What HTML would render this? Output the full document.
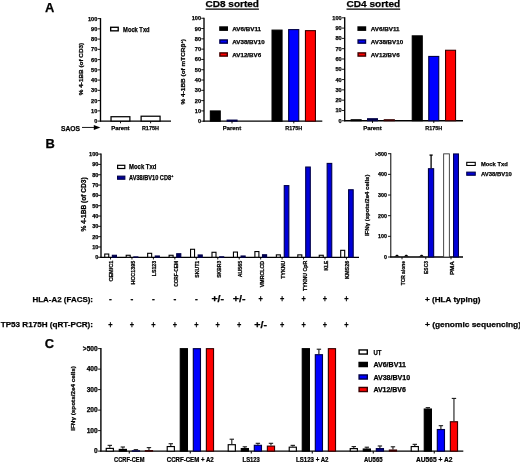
<!DOCTYPE html>
<html><head><meta charset="utf-8"><title>Figure</title>
<style>
html,body{margin:0;padding:0;background:#fff}
svg{display:block}
text{font-family:"Liberation Sans", sans-serif;font-weight:bold;fill:#000;stroke:#000;stroke-width:0.25px}
</style></head><body>
<svg width="520" height="462" viewBox="0 0 520 462">
<rect width="520" height="462" fill="#fff"/>
<text x="45.0" y="11.7" font-size="12.9" text-anchor="start" stroke-width="0.55">A</text>
<line x1="100.5" y1="18.1" x2="100.5" y2="121.6" stroke="#000" stroke-width="1.35"/>
<line x1="97.7" y1="121.1" x2="100.5" y2="121.1" stroke="#000" stroke-width="0.9"/>
<text x="97.3" y="123.12" font-size="5.6" text-anchor="end">0</text>
<line x1="97.7" y1="110.85" x2="100.5" y2="110.85" stroke="#000" stroke-width="0.9"/>
<text x="97.3" y="112.87" font-size="5.6" text-anchor="end">10</text>
<line x1="97.7" y1="100.6" x2="100.5" y2="100.6" stroke="#000" stroke-width="0.9"/>
<text x="97.3" y="102.62" font-size="5.6" text-anchor="end">20</text>
<line x1="97.7" y1="90.35" x2="100.5" y2="90.35" stroke="#000" stroke-width="0.9"/>
<text x="97.3" y="92.37" font-size="5.6" text-anchor="end">30</text>
<line x1="97.7" y1="80.1" x2="100.5" y2="80.1" stroke="#000" stroke-width="0.9"/>
<text x="97.3" y="82.12" font-size="5.6" text-anchor="end">40</text>
<line x1="97.7" y1="69.85" x2="100.5" y2="69.85" stroke="#000" stroke-width="0.9"/>
<text x="97.3" y="71.87" font-size="5.6" text-anchor="end">50</text>
<line x1="97.7" y1="59.599999999999994" x2="100.5" y2="59.599999999999994" stroke="#000" stroke-width="0.9"/>
<text x="97.3" y="61.62" font-size="5.6" text-anchor="end">60</text>
<line x1="97.7" y1="49.349999999999994" x2="100.5" y2="49.349999999999994" stroke="#000" stroke-width="0.9"/>
<text x="97.3" y="51.37" font-size="5.6" text-anchor="end">70</text>
<line x1="97.7" y1="39.099999999999994" x2="100.5" y2="39.099999999999994" stroke="#000" stroke-width="0.9"/>
<text x="97.3" y="41.12" font-size="5.6" text-anchor="end">80</text>
<line x1="97.7" y1="28.849999999999994" x2="100.5" y2="28.849999999999994" stroke="#000" stroke-width="0.9"/>
<text x="97.3" y="30.87" font-size="5.6" text-anchor="end">90</text>
<line x1="97.7" y1="18.599999999999994" x2="100.5" y2="18.599999999999994" stroke="#000" stroke-width="0.9"/>
<text x="97.3" y="20.62" font-size="5.6" text-anchor="end">100</text>
<line x1="100" y1="121.1" x2="171" y2="121.1" stroke="#000" stroke-width="1.3"/>
<rect x="111.03" y="116.72" width="18.85" height="4.35" fill="#fff" stroke="#000" stroke-width="1.25"/>
<rect x="141.12" y="116.22" width="18.95" height="4.85" fill="#fff" stroke="#000" stroke-width="1.25"/>
<line x1="120.5" y1="121.1" x2="120.5" y2="123.3" stroke="#000" stroke-width="0.9"/>
<line x1="150.6" y1="121.1" x2="150.6" y2="123.3" stroke="#000" stroke-width="0.9"/>
<text x="120.4" y="130.4" font-size="6.2" text-anchor="middle" textLength="18.4" lengthAdjust="spacingAndGlyphs">Parent</text>
<text x="150.4" y="130.4" font-size="6.2" text-anchor="middle" textLength="16.9" lengthAdjust="spacingAndGlyphs">R175H</text>
<text x="83.2" y="69" font-size="6.0" text-anchor="middle" textLength="52.3" lengthAdjust="spacingAndGlyphs" transform="rotate(-90 83.2 69)">% 4-1BB (of CD3)</text>
<rect x="110.67" y="27.28" width="7.55" height="3.55" fill="#fff" stroke="#000" stroke-width="1.35"/>
<text x="123.1" y="31.5" font-size="6.5" text-anchor="start" textLength="26.5" lengthAdjust="spacingAndGlyphs">Mock Txd</text>
<text x="60.9" y="130.9" font-size="7.4" text-anchor="start" textLength="19.2" lengthAdjust="spacingAndGlyphs" stroke-width="0.45">SAOS</text>
<line x1="82" y1="127.45" x2="95" y2="127.45" stroke="#000" stroke-width="0.9"/>
<path d="M93.8 124.9 L100.4 127.45 L93.8 130 Z" fill="#000"/>
<line x1="204.0" y1="17.75" x2="204.0" y2="121.7" stroke="#000" stroke-width="1.35"/>
<line x1="201.2" y1="121.2" x2="204.0" y2="121.2" stroke="#000" stroke-width="0.9"/>
<text x="201.0" y="123.22" font-size="5.6" text-anchor="end">0</text>
<line x1="201.2" y1="110.905" x2="204.0" y2="110.905" stroke="#000" stroke-width="0.9"/>
<text x="201.0" y="112.92" font-size="5.6" text-anchor="end">10</text>
<line x1="201.2" y1="100.61" x2="204.0" y2="100.61" stroke="#000" stroke-width="0.9"/>
<text x="201.0" y="102.63" font-size="5.6" text-anchor="end">20</text>
<line x1="201.2" y1="90.315" x2="204.0" y2="90.315" stroke="#000" stroke-width="0.9"/>
<text x="201.0" y="92.33" font-size="5.6" text-anchor="end">30</text>
<line x1="201.2" y1="80.02000000000001" x2="204.0" y2="80.02000000000001" stroke="#000" stroke-width="0.9"/>
<text x="201.0" y="82.04" font-size="5.6" text-anchor="end">40</text>
<line x1="201.2" y1="69.725" x2="204.0" y2="69.725" stroke="#000" stroke-width="0.9"/>
<text x="201.0" y="71.74" font-size="5.6" text-anchor="end">50</text>
<line x1="201.2" y1="59.43" x2="204.0" y2="59.43" stroke="#000" stroke-width="0.9"/>
<text x="201.0" y="61.45" font-size="5.6" text-anchor="end">60</text>
<line x1="201.2" y1="49.135000000000005" x2="204.0" y2="49.135000000000005" stroke="#000" stroke-width="0.9"/>
<text x="201.0" y="51.15" font-size="5.6" text-anchor="end">70</text>
<line x1="201.2" y1="38.84" x2="204.0" y2="38.84" stroke="#000" stroke-width="0.9"/>
<text x="201.0" y="40.86" font-size="5.6" text-anchor="end">80</text>
<line x1="201.2" y1="28.545" x2="204.0" y2="28.545" stroke="#000" stroke-width="0.9"/>
<text x="201.0" y="30.56" font-size="5.6" text-anchor="end">90</text>
<line x1="201.2" y1="18.25" x2="204.0" y2="18.25" stroke="#000" stroke-width="0.9"/>
<text x="201.0" y="20.27" font-size="5.6" text-anchor="end">100</text>
<line x1="203.5" y1="121.2" x2="322.3" y2="121.2" stroke="#000" stroke-width="1.3"/>
<rect x="210.35" y="110.94" width="9.90" height="10.21" fill="#000" stroke="#000" stroke-width="1.1"/>
<rect x="227.15" y="120.10" width="9.90" height="1.05" fill="#000048" stroke="#000048" stroke-width="1.1"/>
<rect x="272.05" y="30.12" width="10.00" height="91.03" fill="#000" stroke="#000" stroke-width="1.1"/>
<rect x="288.65" y="29.61" width="10.10" height="91.54" fill="#0000ff" stroke="#000048" stroke-width="1.1"/>
<rect x="305.45" y="30.64" width="10.00" height="90.51" fill="#ff0000" stroke="#380000" stroke-width="1.1"/>
<line x1="232" y1="121.2" x2="232" y2="123.4" stroke="#000" stroke-width="0.9"/>
<text x="232" y="130.2" font-size="6.2" text-anchor="middle" textLength="18.4" lengthAdjust="spacingAndGlyphs">Parent</text>
<line x1="293.8" y1="121.2" x2="293.8" y2="123.4" stroke="#000" stroke-width="0.9"/>
<text x="293.8" y="130.2" font-size="6.2" text-anchor="middle" textLength="16.9" lengthAdjust="spacingAndGlyphs">R175H</text>
<text x="205.6" y="7.45" font-size="9.2" text-anchor="start" textLength="53.29999999999998" lengthAdjust="spacingAndGlyphs">CD8 sorted</text>
<line x1="205.6" y1="9.05" x2="258.9" y2="9.05" stroke="#000" stroke-width="1.25"/>
<rect x="219.90" y="27.00" width="7.40" height="3.20" fill="#000" stroke="#000" stroke-width="1.4"/>
<text x="232.3" y="30.75" font-size="5.9" text-anchor="start" textLength="28.8" lengthAdjust="spacingAndGlyphs">AV6/BV11</text>
<rect x="219.90" y="39.95" width="7.40" height="3.20" fill="#0000ff" stroke="#000050" stroke-width="1.4"/>
<text x="232.3" y="43.699999999999996" font-size="5.9" text-anchor="start" textLength="32.3" lengthAdjust="spacingAndGlyphs">AV38/BV10</text>
<rect x="219.90" y="52.90" width="7.40" height="3.20" fill="#ff0000" stroke="#400000" stroke-width="1.4"/>
<text x="232.3" y="56.65" font-size="5.9" text-anchor="start" textLength="28.8" lengthAdjust="spacingAndGlyphs">AV12/BV6</text>
<text x="185.1" y="71.7" font-size="6.2" text-anchor="middle" textLength="65.4" lengthAdjust="spacingAndGlyphs" transform="rotate(-90 185.1 71.7)">% 4-1BB (of mTCRβ<tspan dy="-2.2" font-size="4">+</tspan><tspan dy="2.2">)</tspan></text>
<line x1="344.7" y1="17.3" x2="344.7" y2="121.25" stroke="#000" stroke-width="1.35"/>
<line x1="341.9" y1="120.75" x2="344.7" y2="120.75" stroke="#000" stroke-width="0.9"/>
<text x="341.7" y="122.77" font-size="5.6" text-anchor="end">0</text>
<line x1="341.9" y1="110.455" x2="344.7" y2="110.455" stroke="#000" stroke-width="0.9"/>
<text x="341.7" y="112.47" font-size="5.6" text-anchor="end">10</text>
<line x1="341.9" y1="100.16" x2="344.7" y2="100.16" stroke="#000" stroke-width="0.9"/>
<text x="341.7" y="102.18" font-size="5.6" text-anchor="end">20</text>
<line x1="341.9" y1="89.865" x2="344.7" y2="89.865" stroke="#000" stroke-width="0.9"/>
<text x="341.7" y="91.88" font-size="5.6" text-anchor="end">30</text>
<line x1="341.9" y1="79.57" x2="344.7" y2="79.57" stroke="#000" stroke-width="0.9"/>
<text x="341.7" y="81.59" font-size="5.6" text-anchor="end">40</text>
<line x1="341.9" y1="69.275" x2="344.7" y2="69.275" stroke="#000" stroke-width="0.9"/>
<text x="341.7" y="71.29" font-size="5.6" text-anchor="end">50</text>
<line x1="341.9" y1="58.98" x2="344.7" y2="58.98" stroke="#000" stroke-width="0.9"/>
<text x="341.7" y="61.0" font-size="5.6" text-anchor="end">60</text>
<line x1="341.9" y1="48.685" x2="344.7" y2="48.685" stroke="#000" stroke-width="0.9"/>
<text x="341.7" y="50.7" font-size="5.6" text-anchor="end">70</text>
<line x1="341.9" y1="38.39" x2="344.7" y2="38.39" stroke="#000" stroke-width="0.9"/>
<text x="341.7" y="40.41" font-size="5.6" text-anchor="end">80</text>
<line x1="341.9" y1="28.095" x2="344.7" y2="28.095" stroke="#000" stroke-width="0.9"/>
<text x="341.7" y="30.11" font-size="5.6" text-anchor="end">90</text>
<line x1="341.9" y1="17.799999999999997" x2="344.7" y2="17.799999999999997" stroke="#000" stroke-width="0.9"/>
<text x="341.7" y="19.82" font-size="5.6" text-anchor="end">100</text>
<line x1="344.2" y1="120.75" x2="463" y2="120.75" stroke="#000" stroke-width="1.3"/>
<rect x="351.15" y="119.76" width="10.00" height="0.94" fill="#000" stroke="#000" stroke-width="1.1"/>
<rect x="367.55" y="118.73" width="9.90" height="1.97" fill="#000048" stroke="#000048" stroke-width="1.1"/>
<rect x="384.25" y="119.76" width="10.10" height="0.94" fill="#380000" stroke="#380000" stroke-width="1.1"/>
<rect x="412.25" y="35.85" width="10.00" height="84.85" fill="#000" stroke="#000" stroke-width="1.1"/>
<rect x="428.75" y="56.44" width="10.00" height="64.26" fill="#0000ff" stroke="#000048" stroke-width="1.1"/>
<rect x="445.55" y="50.26" width="10.00" height="70.44" fill="#ff0000" stroke="#380000" stroke-width="1.1"/>
<line x1="372.5" y1="120.75" x2="372.5" y2="122.95" stroke="#000" stroke-width="0.9"/>
<text x="372.5" y="129.75" font-size="6.2" text-anchor="middle" textLength="18.4" lengthAdjust="spacingAndGlyphs">Parent</text>
<line x1="433.8" y1="120.75" x2="433.8" y2="122.95" stroke="#000" stroke-width="0.9"/>
<text x="433.8" y="129.75" font-size="6.2" text-anchor="middle" textLength="16.9" lengthAdjust="spacingAndGlyphs">R175H</text>
<text x="346.5" y="7.45" font-size="9.2" text-anchor="start" textLength="53.69999999999999" lengthAdjust="spacingAndGlyphs">CD4 sorted</text>
<line x1="346.5" y1="9.05" x2="400.2" y2="9.05" stroke="#000" stroke-width="1.25"/>
<rect x="358.10" y="27.00" width="7.40" height="3.20" fill="#000" stroke="#000" stroke-width="1.4"/>
<text x="370.8" y="30.75" font-size="5.9" text-anchor="start" textLength="28.8" lengthAdjust="spacingAndGlyphs">AV6/BV11</text>
<rect x="358.10" y="39.95" width="7.40" height="3.20" fill="#0000ff" stroke="#000050" stroke-width="1.4"/>
<text x="370.8" y="43.699999999999996" font-size="5.9" text-anchor="start" textLength="32.3" lengthAdjust="spacingAndGlyphs">AV38/BV10</text>
<rect x="358.10" y="52.90" width="7.40" height="3.20" fill="#ff0000" stroke="#400000" stroke-width="1.4"/>
<text x="370.8" y="56.65" font-size="5.9" text-anchor="start" textLength="28.8" lengthAdjust="spacingAndGlyphs">AV12/BV6</text>
<text x="45.5" y="148.4" font-size="12.9" text-anchor="start" stroke-width="0.55">B</text>
<line x1="101.0" y1="153.6" x2="101.0" y2="257.8" stroke="#000" stroke-width="1.35"/>
<line x1="98.2" y1="257.3" x2="101.0" y2="257.3" stroke="#000" stroke-width="0.9"/>
<text x="98.4" y="259.32" font-size="5.6" text-anchor="end">0</text>
<line x1="98.2" y1="246.98000000000002" x2="101.0" y2="246.98000000000002" stroke="#000" stroke-width="0.9"/>
<text x="98.4" y="249.0" font-size="5.6" text-anchor="end">10</text>
<line x1="98.2" y1="236.66" x2="101.0" y2="236.66" stroke="#000" stroke-width="0.9"/>
<text x="98.4" y="238.68" font-size="5.6" text-anchor="end">20</text>
<line x1="98.2" y1="226.34" x2="101.0" y2="226.34" stroke="#000" stroke-width="0.9"/>
<text x="98.4" y="228.36" font-size="5.6" text-anchor="end">30</text>
<line x1="98.2" y1="216.02" x2="101.0" y2="216.02" stroke="#000" stroke-width="0.9"/>
<text x="98.4" y="218.04" font-size="5.6" text-anchor="end">40</text>
<line x1="98.2" y1="205.7" x2="101.0" y2="205.7" stroke="#000" stroke-width="0.9"/>
<text x="98.4" y="207.72" font-size="5.6" text-anchor="end">50</text>
<line x1="98.2" y1="195.38" x2="101.0" y2="195.38" stroke="#000" stroke-width="0.9"/>
<text x="98.4" y="197.4" font-size="5.6" text-anchor="end">60</text>
<line x1="98.2" y1="185.06" x2="101.0" y2="185.06" stroke="#000" stroke-width="0.9"/>
<text x="98.4" y="187.08" font-size="5.6" text-anchor="end">70</text>
<line x1="98.2" y1="174.74" x2="101.0" y2="174.74" stroke="#000" stroke-width="0.9"/>
<text x="98.4" y="176.76" font-size="5.6" text-anchor="end">80</text>
<line x1="98.2" y1="164.42" x2="101.0" y2="164.42" stroke="#000" stroke-width="0.9"/>
<text x="98.4" y="166.44" font-size="5.6" text-anchor="end">90</text>
<line x1="98.2" y1="154.1" x2="101.0" y2="154.1" stroke="#000" stroke-width="0.9"/>
<text x="98.4" y="156.12" font-size="5.6" text-anchor="end">100</text>
<line x1="100.4" y1="257.3" x2="359" y2="257.3" stroke="#000" stroke-width="1.3"/>
<rect x="104.75" y="254.03" width="4.00" height="3.22" fill="#fff" stroke="#000" stroke-width="1.1"/>
<rect x="112.35" y="255.27" width="4.10" height="1.98" fill="#000060" stroke="#000048" stroke-width="1.1"/>
<line x1="110.5" y1="257.3" x2="110.5" y2="259.5" stroke="#000" stroke-width="0.9"/>
<text x="113.5" y="260.8" font-size="5.6" text-anchor="end" textLength="20.7" lengthAdjust="spacingAndGlyphs" transform="rotate(-90 113.5 260.8)">CEM/C1</text>
<text x="110.5" y="302.0" font-size="9.2" text-anchor="middle" textLength="2.8" lengthAdjust="spacingAndGlyphs">-</text>
<text x="110.5" y="327.8" font-size="9.2" text-anchor="middle" textLength="4.3" lengthAdjust="spacingAndGlyphs">+</text>
<rect x="126.20" y="255.27" width="4.00" height="1.98" fill="#fff" stroke="#000" stroke-width="1.1"/>
<rect x="133.80" y="256.92" width="4.10" height="0.33" fill="#000060" stroke="#000048" stroke-width="1.1"/>
<line x1="131.95" y1="257.3" x2="131.95" y2="259.5" stroke="#000" stroke-width="0.9"/>
<text x="134.95" y="260.8" font-size="5.6" text-anchor="end" textLength="23.7" lengthAdjust="spacingAndGlyphs" transform="rotate(-90 134.95 260.8)">HCC1395</text>
<text x="131.95" y="302.0" font-size="9.2" text-anchor="middle" textLength="2.8" lengthAdjust="spacingAndGlyphs">-</text>
<text x="131.95" y="327.8" font-size="9.2" text-anchor="middle" textLength="4.3" lengthAdjust="spacingAndGlyphs">+</text>
<rect x="147.65" y="253.31" width="4.00" height="3.94" fill="#fff" stroke="#000" stroke-width="1.1"/>
<rect x="155.25" y="255.99" width="4.10" height="1.26" fill="#000060" stroke="#000048" stroke-width="1.1"/>
<line x1="153.4" y1="257.3" x2="153.4" y2="259.5" stroke="#000" stroke-width="0.9"/>
<text x="156.4" y="260.8" font-size="5.6" text-anchor="end" textLength="15.5" lengthAdjust="spacingAndGlyphs" transform="rotate(-90 156.4 260.8)">LS123</text>
<text x="153.4" y="302.0" font-size="9.2" text-anchor="middle" textLength="2.8" lengthAdjust="spacingAndGlyphs">-</text>
<text x="153.4" y="327.8" font-size="9.2" text-anchor="middle" textLength="4.3" lengthAdjust="spacingAndGlyphs">+</text>
<rect x="169.10" y="255.27" width="4.00" height="1.98" fill="#fff" stroke="#000" stroke-width="1.1"/>
<rect x="176.70" y="253.72" width="4.10" height="3.53" fill="#000060" stroke="#000048" stroke-width="1.1"/>
<line x1="174.85" y1="257.3" x2="174.85" y2="259.5" stroke="#000" stroke-width="0.9"/>
<text x="177.85" y="260.8" font-size="5.6" text-anchor="end" textLength="26" lengthAdjust="spacingAndGlyphs" transform="rotate(-90 177.85 260.8)">CCRF-CEM</text>
<text x="174.85" y="302.0" font-size="9.2" text-anchor="middle" textLength="2.8" lengthAdjust="spacingAndGlyphs">-</text>
<text x="174.85" y="327.8" font-size="9.2" text-anchor="middle" textLength="4.3" lengthAdjust="spacingAndGlyphs">+</text>
<rect x="190.55" y="249.28" width="4.00" height="7.97" fill="#fff" stroke="#000" stroke-width="1.1"/>
<rect x="198.15" y="254.96" width="4.10" height="2.29" fill="#000060" stroke="#000048" stroke-width="1.1"/>
<line x1="196.3" y1="257.3" x2="196.3" y2="259.5" stroke="#000" stroke-width="0.9"/>
<text x="199.3" y="260.8" font-size="5.6" text-anchor="end" textLength="17" lengthAdjust="spacingAndGlyphs" transform="rotate(-90 199.3 260.8)">SKUT1</text>
<text x="196.3" y="302.0" font-size="9.2" text-anchor="middle" textLength="2.8" lengthAdjust="spacingAndGlyphs">-</text>
<text x="196.3" y="327.8" font-size="9.2" text-anchor="middle" textLength="4.3" lengthAdjust="spacingAndGlyphs">+</text>
<rect x="212.00" y="252.28" width="4.00" height="4.97" fill="#fff" stroke="#000" stroke-width="1.1"/>
<rect x="219.60" y="256.82" width="4.10" height="0.43" fill="#000060" stroke="#000048" stroke-width="1.1"/>
<line x1="217.75" y1="257.3" x2="217.75" y2="259.5" stroke="#000" stroke-width="0.9"/>
<text x="220.75" y="260.8" font-size="5.6" text-anchor="end" textLength="17" lengthAdjust="spacingAndGlyphs" transform="rotate(-90 220.75 260.8)">SKBR3</text>
<text x="217.75" y="302.0" font-size="9.2" text-anchor="middle" textLength="12.7" lengthAdjust="spacingAndGlyphs">+/-</text>
<text x="217.75" y="327.8" font-size="9.2" text-anchor="middle" textLength="4.3" lengthAdjust="spacingAndGlyphs">+</text>
<rect x="233.45" y="252.07" width="4.00" height="5.18" fill="#fff" stroke="#000" stroke-width="1.1"/>
<rect x="241.05" y="255.99" width="4.10" height="1.26" fill="#000060" stroke="#000048" stroke-width="1.1"/>
<line x1="239.2" y1="257.3" x2="239.2" y2="259.5" stroke="#000" stroke-width="0.9"/>
<text x="242.2" y="260.8" font-size="5.6" text-anchor="end" textLength="16.5" lengthAdjust="spacingAndGlyphs" transform="rotate(-90 242.2 260.8)">AU565</text>
<text x="239.2" y="302.0" font-size="9.2" text-anchor="middle" textLength="12.7" lengthAdjust="spacingAndGlyphs">+/-</text>
<text x="239.2" y="327.8" font-size="9.2" text-anchor="middle" textLength="4.3" lengthAdjust="spacingAndGlyphs">+</text>
<rect x="254.90" y="251.55" width="4.00" height="5.70" fill="#fff" stroke="#000" stroke-width="1.1"/>
<rect x="262.50" y="254.75" width="4.10" height="2.50" fill="#000060" stroke="#000048" stroke-width="1.1"/>
<line x1="260.65" y1="257.3" x2="260.65" y2="259.5" stroke="#000" stroke-width="0.9"/>
<text x="263.65" y="260.8" font-size="5.6" text-anchor="end" textLength="26.5" lengthAdjust="spacingAndGlyphs" transform="rotate(-90 263.65 260.8)">VMRCLCD</text>
<text x="260.65" y="302.0" font-size="9.2" text-anchor="middle" textLength="4.3" lengthAdjust="spacingAndGlyphs">+</text>
<text x="260.65" y="327.8" font-size="9.2" text-anchor="middle" textLength="12.7" lengthAdjust="spacingAndGlyphs">+/-</text>
<rect x="276.35" y="254.86" width="4.00" height="2.39" fill="#fff" stroke="#000" stroke-width="1.1"/>
<rect x="284.25" y="185.61" width="4.60" height="71.64" fill="#0000d8" stroke="#000048" stroke-width="1.1"/>
<line x1="282.1" y1="257.3" x2="282.1" y2="259.5" stroke="#000" stroke-width="0.9"/>
<text x="285.1" y="260.8" font-size="5.6" text-anchor="end" textLength="17.9" lengthAdjust="spacingAndGlyphs" transform="rotate(-90 285.1 260.8)">TYKNU</text>
<text x="282.1" y="302.0" font-size="9.2" text-anchor="middle" textLength="4.3" lengthAdjust="spacingAndGlyphs">+</text>
<text x="282.1" y="327.8" font-size="9.2" text-anchor="middle" textLength="4.3" lengthAdjust="spacingAndGlyphs">+</text>
<rect x="297.80" y="254.86" width="4.00" height="2.39" fill="#fff" stroke="#000" stroke-width="1.1"/>
<rect x="305.70" y="167.03" width="4.60" height="90.22" fill="#0000d8" stroke="#000048" stroke-width="1.1"/>
<line x1="303.54999999999995" y1="257.3" x2="303.54999999999995" y2="259.5" stroke="#000" stroke-width="0.9"/>
<text x="306.54999999999995" y="260.8" font-size="5.6" text-anchor="end" textLength="30.2" lengthAdjust="spacingAndGlyphs" transform="rotate(-90 306.54999999999995 260.8)">TYKNU CpR</text>
<text x="303.54999999999995" y="302.0" font-size="9.2" text-anchor="middle" textLength="4.3" lengthAdjust="spacingAndGlyphs">+</text>
<text x="303.54999999999995" y="327.8" font-size="9.2" text-anchor="middle" textLength="4.3" lengthAdjust="spacingAndGlyphs">+</text>
<rect x="319.25" y="255.27" width="4.00" height="1.98" fill="#fff" stroke="#000" stroke-width="1.1"/>
<rect x="327.15" y="163.42" width="4.60" height="93.83" fill="#0000d8" stroke="#000048" stroke-width="1.1"/>
<line x1="325.0" y1="257.3" x2="325.0" y2="259.5" stroke="#000" stroke-width="0.9"/>
<text x="328.0" y="260.8" font-size="5.6" text-anchor="end" textLength="9.6" lengthAdjust="spacingAndGlyphs" transform="rotate(-90 328.0 260.8)">KLE</text>
<text x="325.0" y="302.0" font-size="9.2" text-anchor="middle" textLength="4.3" lengthAdjust="spacingAndGlyphs">+</text>
<text x="325.0" y="327.8" font-size="9.2" text-anchor="middle" textLength="4.3" lengthAdjust="spacingAndGlyphs">+</text>
<rect x="340.70" y="250.32" width="4.00" height="6.93" fill="#fff" stroke="#000" stroke-width="1.1"/>
<rect x="348.60" y="189.74" width="4.60" height="67.51" fill="#0000d8" stroke="#000048" stroke-width="1.1"/>
<line x1="346.45" y1="257.3" x2="346.45" y2="259.5" stroke="#000" stroke-width="0.9"/>
<text x="349.45" y="260.8" font-size="5.6" text-anchor="end" textLength="18.2" lengthAdjust="spacingAndGlyphs" transform="rotate(-90 349.45 260.8)">KMS26</text>
<text x="346.45" y="302.0" font-size="9.2" text-anchor="middle" textLength="4.3" lengthAdjust="spacingAndGlyphs">+</text>
<text x="346.45" y="327.8" font-size="9.2" text-anchor="middle" textLength="4.3" lengthAdjust="spacingAndGlyphs">+</text>
<text x="85.6" y="204.4" font-size="6.3" text-anchor="middle" textLength="54" lengthAdjust="spacingAndGlyphs" transform="rotate(-90 85.6 204.4)">% 4-1BB (of CD3)</text>
<rect x="117.60" y="165.30" width="7.20" height="3.20" fill="#fff" stroke="#000" stroke-width="1.2"/>
<text x="129.1" y="169.2" font-size="6.3" text-anchor="start" textLength="27.2" lengthAdjust="spacingAndGlyphs">Mock Txd</text>
<rect x="117.55" y="176.15" width="7.30" height="3.10" fill="#00009a" stroke="#000048" stroke-width="1.1"/>
<text x="129.1" y="180.0" font-size="6.3" text-anchor="start" textLength="42" lengthAdjust="spacingAndGlyphs">AV38/BV10 CD8</text>
<text x="171.3" y="177.3" font-size="3.6" text-anchor="start">+</text>
<text x="93" y="301.5" font-size="8.0" text-anchor="end" textLength="60.5" lengthAdjust="spacingAndGlyphs">HLA-A2 (FACS):</text>
<text x="93" y="327.2" font-size="8.0" text-anchor="end" textLength="92.3" lengthAdjust="spacingAndGlyphs">TP53 R175H (qRT-PCR):</text>
<text x="425" y="301.7" font-size="8.0" text-anchor="start" textLength="55.5" lengthAdjust="spacingAndGlyphs">+ (HLA typing)</text>
<text x="425" y="327.4" font-size="8.0" text-anchor="start" textLength="96" lengthAdjust="spacingAndGlyphs">+ (genomic sequencing)</text>
<line x1="390.8" y1="153.2" x2="390.8" y2="257.5" stroke="#000" stroke-width="1.0"/>
<line x1="388.0" y1="257.0" x2="390.8" y2="257.0" stroke="#000" stroke-width="0.9"/>
<text x="386.9" y="258.91" font-size="5.3" text-anchor="end">0</text>
<line x1="388.0" y1="236.34" x2="390.8" y2="236.34" stroke="#000" stroke-width="0.9"/>
<text x="386.9" y="238.25" font-size="5.3" text-anchor="end">100</text>
<line x1="388.0" y1="215.68" x2="390.8" y2="215.68" stroke="#000" stroke-width="0.9"/>
<text x="386.9" y="217.59" font-size="5.3" text-anchor="end">200</text>
<line x1="388.0" y1="195.01999999999998" x2="390.8" y2="195.01999999999998" stroke="#000" stroke-width="0.9"/>
<text x="386.9" y="196.93" font-size="5.3" text-anchor="end">300</text>
<line x1="388.0" y1="174.35999999999999" x2="390.8" y2="174.35999999999999" stroke="#000" stroke-width="0.9"/>
<text x="386.9" y="176.27" font-size="5.3" text-anchor="end">400</text>
<line x1="388.0" y1="153.7" x2="390.8" y2="153.7" stroke="#000" stroke-width="0.9"/>
<text x="386.9" y="155.61" font-size="5.3" text-anchor="end">&gt;500</text>
<line x1="390.3" y1="257.0" x2="463" y2="257.0" stroke="#000" stroke-width="1.4"/>
<text x="368.6" y="205.3" font-size="5.7" text-anchor="middle" textLength="61.5" lengthAdjust="spacingAndGlyphs" transform="rotate(-90 368.6 205.3)" stroke-width="0.12">IFNγ (spots/2e4 cells)</text>
<path d="M393.60 256.6 C395.70 256.6 395.27 254.70000000000002 397.0 254.70000000000002 C398.73 254.70000000000002 398.30 256.6 400.40 256.6 Z" fill="#000"/>
<path d="M402.90 256.6 C405.00 256.6 404.57 254.70000000000002 406.3 254.70000000000002 C408.03 254.70000000000002 407.60 256.6 409.70 256.6 Z" fill="#000"/>
<path d="M418.20 256.6 C420.30 256.6 419.87 254.70000000000002 421.6 254.70000000000002 C423.33 254.70000000000002 422.90 256.6 425.00 256.6 Z" fill="#000"/>
<rect x="428.45" y="168.71" width="5.20" height="88.24" fill="#0000d8" stroke="#000048" stroke-width="1.1"/>
<line x1="431.1" y1="155.1" x2="431.1" y2="168.16199999999998" stroke="#000" stroke-width="1.3"/>
<line x1="429.5" y1="155.1" x2="432.70000000000005" y2="155.1" stroke="#000" stroke-width="1.3"/>
<rect x="443.65" y="153.85" width="5.70" height="103.20" fill="#fff" stroke="#333" stroke-width="0.9"/>
<rect x="453.55" y="153.95" width="4.90" height="103.00" fill="#0000d8" stroke="#000048" stroke-width="1.1"/>
<line x1="402" y1="257" x2="402" y2="259.3" stroke="#000" stroke-width="0.9"/>
<text x="404.6" y="261.1" font-size="5.6" text-anchor="end" textLength="24.2" lengthAdjust="spacingAndGlyphs" transform="rotate(-90 404.6 261.1)">TCR alone</text>
<line x1="425.8" y1="257" x2="425.8" y2="259.3" stroke="#000" stroke-width="0.9"/>
<text x="428.40000000000003" y="261.1" font-size="5.6" text-anchor="end" textLength="12.8" lengthAdjust="spacingAndGlyphs" transform="rotate(-90 428.40000000000003 261.1)">ESC3</text>
<line x1="451" y1="257" x2="451" y2="259.3" stroke="#000" stroke-width="0.9"/>
<text x="453.6" y="261.1" font-size="5.6" text-anchor="end" textLength="14" lengthAdjust="spacingAndGlyphs" transform="rotate(-90 453.6 261.1)">PMA</text>
<rect x="466.75" y="162.35" width="8.50" height="3.10" fill="#fff" stroke="#000" stroke-width="1.1"/>
<text x="481.0" y="166.0" font-size="6.2" text-anchor="start" textLength="26.7" lengthAdjust="spacingAndGlyphs">Mock Txd</text>
<rect x="466.75" y="172.15" width="8.50" height="3.10" fill="#0000d8" stroke="#000048" stroke-width="1.1"/>
<text x="481.0" y="175.9" font-size="6.2" text-anchor="start" textLength="30.8" lengthAdjust="spacingAndGlyphs">AV38/BV10</text>
<text x="44.7" y="347.9" font-size="12.9" text-anchor="start" stroke-width="0.55">C</text>
<line x1="100.9" y1="348.1" x2="100.9" y2="451.6" stroke="#000" stroke-width="1.4"/>
<line x1="98.10000000000001" y1="451.1" x2="100.9" y2="451.1" stroke="#000" stroke-width="0.9"/>
<text x="97.7" y="453.48" font-size="6.6" text-anchor="end">0</text>
<line x1="98.10000000000001" y1="430.6" x2="100.9" y2="430.6" stroke="#000" stroke-width="0.9"/>
<text x="97.7" y="432.98" font-size="6.6" text-anchor="end">100</text>
<line x1="98.10000000000001" y1="410.1" x2="100.9" y2="410.1" stroke="#000" stroke-width="0.9"/>
<text x="97.7" y="412.48" font-size="6.6" text-anchor="end">200</text>
<line x1="98.10000000000001" y1="389.6" x2="100.9" y2="389.6" stroke="#000" stroke-width="0.9"/>
<text x="97.7" y="391.98" font-size="6.6" text-anchor="end">300</text>
<line x1="98.10000000000001" y1="369.1" x2="100.9" y2="369.1" stroke="#000" stroke-width="0.9"/>
<text x="97.7" y="371.48" font-size="6.6" text-anchor="end">400</text>
<line x1="98.10000000000001" y1="348.6" x2="100.9" y2="348.6" stroke="#000" stroke-width="0.9"/>
<text x="97.7" y="350.98" font-size="6.6" text-anchor="end">&gt;500</text>
<line x1="100.2" y1="451.1" x2="463.3" y2="451.1" stroke="#000" stroke-width="1.4"/>
<text x="75.0" y="398.4" font-size="6.1" text-anchor="middle" textLength="64.7" lengthAdjust="spacingAndGlyphs" transform="rotate(-90 75.0 398.4)" stroke-width="0.12">IFNγ (spots/2e4 cells)</text>
<line x1="109.80000000000001" y1="445.36" x2="109.80000000000001" y2="447.82000000000005" stroke="#1a1a1a" stroke-width="1.1"/>
<line x1="107.60000000000001" y1="445.36" x2="112.00000000000001" y2="445.36" stroke="#1a1a1a" stroke-width="1.1"/>
<rect x="106.23" y="448.40" width="7.15" height="2.73" fill="#fff" stroke="#000" stroke-width="1.15"/>
<line x1="122.85" y1="447.0" x2="122.85" y2="448.845" stroke="#1a1a1a" stroke-width="1.1"/>
<line x1="120.64999999999999" y1="447.0" x2="125.05" y2="447.0" stroke="#1a1a1a" stroke-width="1.1"/>
<rect x="119.28" y="449.42" width="7.15" height="1.71" fill="#000" stroke="#000" stroke-width="1.15"/>
<line x1="135.9" y1="449.665" x2="135.9" y2="450.28000000000003" stroke="#1a1a1a" stroke-width="1.1"/>
<line x1="133.70000000000002" y1="449.665" x2="138.1" y2="449.665" stroke="#1a1a1a" stroke-width="1.1"/>
<rect x="132.32" y="450.86" width="7.15" height="0.27" fill="#000048" stroke="#000048" stroke-width="1.15"/>
<line x1="148.95000000000002" y1="447.615" x2="148.95000000000002" y2="450.07500000000005" stroke="#1a1a1a" stroke-width="1.1"/>
<line x1="146.75000000000003" y1="447.615" x2="151.15" y2="447.615" stroke="#1a1a1a" stroke-width="1.1"/>
<rect x="145.38" y="450.65" width="7.15" height="0.48" fill="#380000" stroke="#380000" stroke-width="1.15"/>
<line x1="129.25" y1="451.1" x2="129.25" y2="453.5" stroke="#000" stroke-width="1.0"/>
<text x="129.25" y="461.9" font-size="6.5" text-anchor="middle" textLength="30.3" lengthAdjust="spacingAndGlyphs">CCRF-CEM</text>
<line x1="170.8" y1="443.72" x2="170.8" y2="445.975" stroke="#1a1a1a" stroke-width="1.1"/>
<line x1="168.60000000000002" y1="443.72" x2="173.0" y2="443.72" stroke="#1a1a1a" stroke-width="1.1"/>
<rect x="167.22" y="446.55" width="7.15" height="4.58" fill="#fff" stroke="#000" stroke-width="1.15"/>
<rect x="180.28" y="348.68" width="7.15" height="102.45" fill="#000" stroke="#000" stroke-width="1.15"/>
<rect x="193.32" y="348.68" width="7.15" height="102.45" fill="#0000ff" stroke="#000048" stroke-width="1.15"/>
<rect x="206.38" y="348.68" width="7.15" height="102.45" fill="#ff0000" stroke="#380000" stroke-width="1.15"/>
<line x1="190.25" y1="451.1" x2="190.25" y2="453.5" stroke="#000" stroke-width="1.0"/>
<text x="190.25" y="461.9" font-size="6.5" text-anchor="middle" textLength="47" lengthAdjust="spacingAndGlyphs">CCRF-CEM + A2</text>
<line x1="231.8" y1="439.21000000000004" x2="231.8" y2="444.13" stroke="#1a1a1a" stroke-width="1.1"/>
<line x1="229.60000000000002" y1="439.21000000000004" x2="234.0" y2="439.21000000000004" stroke="#1a1a1a" stroke-width="1.1"/>
<rect x="228.22" y="444.70" width="7.15" height="6.42" fill="#fff" stroke="#000" stroke-width="1.15"/>
<line x1="244.85000000000002" y1="446.795" x2="244.85000000000002" y2="448.02500000000003" stroke="#1a1a1a" stroke-width="1.1"/>
<line x1="242.65000000000003" y1="446.795" x2="247.05" y2="446.795" stroke="#1a1a1a" stroke-width="1.1"/>
<rect x="241.28" y="448.60" width="7.15" height="2.53" fill="#000" stroke="#000" stroke-width="1.15"/>
<line x1="257.9" y1="443.31" x2="257.9" y2="444.745" stroke="#1a1a1a" stroke-width="1.1"/>
<line x1="255.7" y1="443.31" x2="260.09999999999997" y2="443.31" stroke="#1a1a1a" stroke-width="1.1"/>
<rect x="254.32" y="445.32" width="7.15" height="5.81" fill="#0000ff" stroke="#000048" stroke-width="1.15"/>
<line x1="270.95000000000005" y1="443.31" x2="270.95000000000005" y2="445.565" stroke="#1a1a1a" stroke-width="1.1"/>
<line x1="268.75000000000006" y1="443.31" x2="273.15000000000003" y2="443.31" stroke="#1a1a1a" stroke-width="1.1"/>
<rect x="267.38" y="446.14" width="7.15" height="4.99" fill="#ff0000" stroke="#380000" stroke-width="1.15"/>
<line x1="251.25" y1="451.1" x2="251.25" y2="453.5" stroke="#000" stroke-width="1.0"/>
<text x="251.25" y="461.9" font-size="6.5" text-anchor="middle" textLength="17.3" lengthAdjust="spacingAndGlyphs">LS123</text>
<line x1="292.79999999999995" y1="445.36" x2="292.79999999999995" y2="446.59000000000003" stroke="#1a1a1a" stroke-width="1.1"/>
<line x1="290.59999999999997" y1="445.36" x2="294.99999999999994" y2="445.36" stroke="#1a1a1a" stroke-width="1.1"/>
<rect x="289.22" y="447.17" width="7.15" height="3.96" fill="#fff" stroke="#000" stroke-width="1.15"/>
<rect x="302.27" y="348.68" width="7.15" height="102.45" fill="#000" stroke="#000" stroke-width="1.15"/>
<line x1="318.9" y1="349.21500000000003" x2="318.9" y2="354.135" stroke="#1a1a1a" stroke-width="1.1"/>
<line x1="316.7" y1="349.21500000000003" x2="321.09999999999997" y2="349.21500000000003" stroke="#1a1a1a" stroke-width="1.1"/>
<rect x="315.32" y="354.71" width="7.15" height="96.42" fill="#0000ff" stroke="#000048" stroke-width="1.15"/>
<rect x="328.37" y="348.68" width="7.15" height="102.45" fill="#ff0000" stroke="#380000" stroke-width="1.15"/>
<line x1="312.25" y1="451.1" x2="312.25" y2="453.5" stroke="#000" stroke-width="1.0"/>
<text x="312.25" y="461.9" font-size="6.5" text-anchor="middle" textLength="32.6" lengthAdjust="spacingAndGlyphs">LS123 + A2</text>
<line x1="353.79999999999995" y1="446.59000000000003" x2="353.79999999999995" y2="448.02500000000003" stroke="#1a1a1a" stroke-width="1.1"/>
<line x1="351.59999999999997" y1="446.59000000000003" x2="355.99999999999994" y2="446.59000000000003" stroke="#1a1a1a" stroke-width="1.1"/>
<rect x="350.22" y="448.60" width="7.15" height="2.53" fill="#fff" stroke="#000" stroke-width="1.15"/>
<line x1="366.85" y1="447.20500000000004" x2="366.85" y2="448.435" stroke="#1a1a1a" stroke-width="1.1"/>
<line x1="364.65000000000003" y1="447.20500000000004" x2="369.05" y2="447.20500000000004" stroke="#1a1a1a" stroke-width="1.1"/>
<rect x="363.27" y="449.01" width="7.15" height="2.12" fill="#000" stroke="#000" stroke-width="1.15"/>
<line x1="379.9" y1="445.975" x2="379.9" y2="448.02500000000003" stroke="#1a1a1a" stroke-width="1.1"/>
<line x1="377.7" y1="445.975" x2="382.09999999999997" y2="445.975" stroke="#1a1a1a" stroke-width="1.1"/>
<rect x="376.32" y="448.60" width="7.15" height="2.53" fill="#000090" stroke="#000048" stroke-width="1.15"/>
<line x1="392.94999999999993" y1="446.795" x2="392.94999999999993" y2="449.46000000000004" stroke="#1a1a1a" stroke-width="1.1"/>
<line x1="390.74999999999994" y1="446.795" x2="395.1499999999999" y2="446.795" stroke="#1a1a1a" stroke-width="1.1"/>
<rect x="389.37" y="450.04" width="7.15" height="1.09" fill="#900000" stroke="#380000" stroke-width="1.15"/>
<line x1="373.25" y1="451.1" x2="373.25" y2="453.5" stroke="#000" stroke-width="1.0"/>
<text x="373.25" y="461.9" font-size="6.5" text-anchor="middle" textLength="18.5" lengthAdjust="spacingAndGlyphs">AU565</text>
<line x1="414.79999999999995" y1="444.33500000000004" x2="414.79999999999995" y2="445.975" stroke="#1a1a1a" stroke-width="1.1"/>
<line x1="412.59999999999997" y1="444.33500000000004" x2="416.99999999999994" y2="444.33500000000004" stroke="#1a1a1a" stroke-width="1.1"/>
<rect x="411.22" y="446.55" width="7.15" height="4.58" fill="#fff" stroke="#000" stroke-width="1.15"/>
<line x1="427.85" y1="407.64000000000004" x2="427.85" y2="408.46000000000004" stroke="#1a1a1a" stroke-width="1.1"/>
<line x1="425.65000000000003" y1="407.64000000000004" x2="430.05" y2="407.64000000000004" stroke="#1a1a1a" stroke-width="1.1"/>
<rect x="424.27" y="409.04" width="7.15" height="42.09" fill="#000" stroke="#000" stroke-width="1.15"/>
<line x1="440.9" y1="425.68" x2="440.9" y2="428.96000000000004" stroke="#1a1a1a" stroke-width="1.1"/>
<line x1="438.7" y1="425.68" x2="443.09999999999997" y2="425.68" stroke="#1a1a1a" stroke-width="1.1"/>
<rect x="437.32" y="429.54" width="7.15" height="21.59" fill="#0000ff" stroke="#000048" stroke-width="1.15"/>
<line x1="453.94999999999993" y1="398.415" x2="453.94999999999993" y2="421.17" stroke="#1a1a1a" stroke-width="1.1"/>
<line x1="451.74999999999994" y1="398.415" x2="456.1499999999999" y2="398.415" stroke="#1a1a1a" stroke-width="1.1"/>
<rect x="450.37" y="421.75" width="7.15" height="29.38" fill="#ff0000" stroke="#380000" stroke-width="1.15"/>
<line x1="434.25" y1="451.1" x2="434.25" y2="453.5" stroke="#000" stroke-width="1.0"/>
<text x="434.25" y="461.9" font-size="6.5" text-anchor="middle" textLength="36.5" lengthAdjust="spacingAndGlyphs">AU565 + A2</text>
<rect x="359.10" y="349.95" width="8.20" height="4.10" fill="#fff" stroke="#000" stroke-width="1.4"/>
<text x="373.4" y="354.55" font-size="6.7" text-anchor="start" textLength="8" lengthAdjust="spacingAndGlyphs">UT</text>
<rect x="359.10" y="362.45" width="8.20" height="4.10" fill="#000" stroke="#000" stroke-width="1.4"/>
<text x="373.4" y="367.05" font-size="6.7" text-anchor="start" textLength="32.5" lengthAdjust="spacingAndGlyphs">AV6/BV11</text>
<rect x="359.10" y="374.95" width="8.20" height="4.10" fill="#0000ff" stroke="#000048" stroke-width="1.4"/>
<text x="373.4" y="379.55" font-size="6.7" text-anchor="start" textLength="36.8" lengthAdjust="spacingAndGlyphs">AV38/BV10</text>
<rect x="359.10" y="387.45" width="8.20" height="4.10" fill="#ff0000" stroke="#380000" stroke-width="1.4"/>
<text x="373.4" y="392.05" font-size="6.7" text-anchor="start" textLength="32.5" lengthAdjust="spacingAndGlyphs">AV12/BV6</text>
</svg>
</body></html>
